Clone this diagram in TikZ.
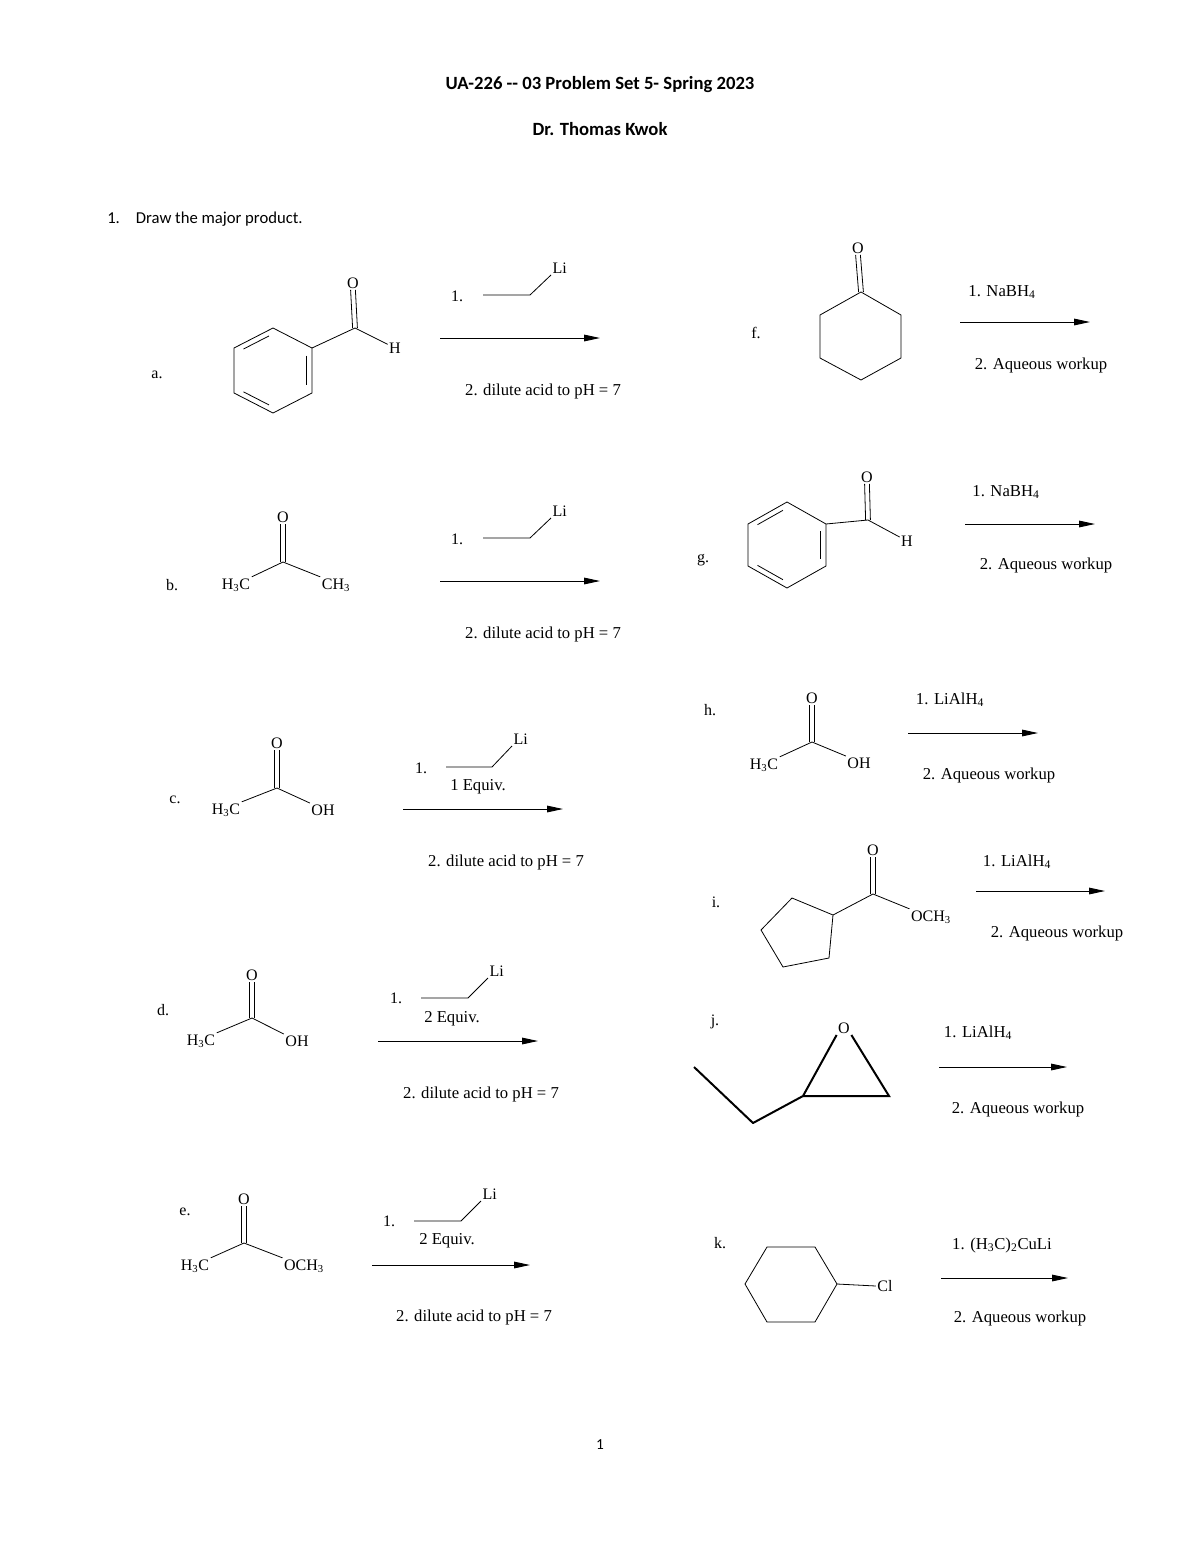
\documentclass[tikz,border=0pt]{standalone}
\usepackage{fontspec}
\setmainfont{Liberation Serif}
\newfontfamily\calib{Carlito}
\usetikzlibrary{arrows.meta,calc}
\tikzset{
 bond/.style={line width=0.6pt},
 thick bond/.style={line width=1.5pt},
 rxn/.style={line width=0.7pt,-{Triangle[length=12pt,width=5pt]}},
 txt/.style={inner sep=0pt,font=\fontsize{12.5}{14}\selectfont},
 atom/.style={inner sep=1pt,font=\fontsize{12}{13}\selectfont},
 lab/.style={inner sep=0pt,font=\fontsize{12}{14}\selectfont},
 hdr/.style={inner sep=0pt,font=\calib\bfseries\fontsize{14}{16}\selectfont},
}
\newcommand{\dbl}[3]{%
 \draw[bond] ([xshift=#3]#1) -- ([xshift=#3]#2);
 \draw[bond] ([xshift=-#3]#1) -- ([xshift=-#3]#2);}
\begin{document}
\begin{tikzpicture}[x=0.75pt,y=-0.75pt]
\useasboundingbox (0,0) rectangle (1200,1553);
\fill[white] (0,0) rectangle (1200,1553);
\node[hdr] (title) at (600,85) {UA-226 -- 03 Problem Set 5- Spring 2023};
\node[hdr] (auth) at (600,129) {Dr. Thomas Kwok};
\node[inner sep=0pt,anchor=west,font=\calib\fontsize{12.5}{14}\selectfont] (q1) at (107,219) {1.\hspace{12pt}Draw the major product.};
\node[inner sep=0pt,font=\calib\fontsize{11.5}{13}\selectfont] (pg) at (600,1445) {1};

\node[lab] (la) at (157,375) {a.};
\coordinate (a1) at (273,328); \coordinate (a2) at (312,348); \coordinate (a3) at (312,393);
\coordinate (a4) at (273,413); \coordinate (a5) at (234,393); \coordinate (a6) at (234,348);
\coordinate (ac) at (273,370);
\draw[bond] (a1)--(a2)--(a3)--(a4)--(a5)--(a6)--cycle;
\draw[bond] ($(a6)!0.12!(a1)!0.14!(ac)$) -- ($(a1)!0.12!(a6)!0.14!(ac)$);
\draw[bond] ($(a2)!0.12!(a3)!0.14!(ac)$) -- ($(a3)!0.12!(a2)!0.14!(ac)$);
\draw[bond] ($(a4)!0.12!(a5)!0.14!(ac)$) -- ($(a5)!0.12!(a4)!0.14!(ac)$);
\coordinate (aC) at (355,328);
\node[atom] (aO) at (353,283) {O};
\node[atom] (aH) at (395,348) {H};
\draw[bond] (a2)--(aC)--(aH);
\dbl{aC}{aO.south}{1.8pt}
\node[lab] (a1t) at (457,296) {1.};
\coordinate (ach1) at (483,295); \coordinate (ach2) at (530,295);
\node[atom,anchor=south west] (aLi) at (551,275) {Li};
\draw[bond] (ach1)--(ach2)--(aLi.south west);
\coordinate (ar1) at (440,338); \coordinate (ar2) at (600,338);
\draw[rxn] (ar1)--(ar2);
\node[txt] (a2t) at (543,391) {2. dilute acid to pH = 7};

\node[lab] (lb) at (172,585) {b.};
\node[atom] (bL) at (236,585) {H\textsubscript{3}C};
\node[atom] (bR) at (336,585) {CH\textsubscript{3}};
\coordinate (bC) at (283,562);
\node[atom] (bO) at (283,517) {O};
\draw[bond] (bL.north east)--(bC)--(bR.north west);
\dbl{bC}{bO.south}{1.8pt}
\node[lab] (b1t) at (457,539) {1.};
\coordinate (bch1) at (483,538); \coordinate (bch2) at (530,538);
\node[atom,anchor=south west] (bLi) at (551,518) {Li};
\draw[bond] (bch1)--(bch2)--(bLi.south west);
\coordinate (br1) at (440,581); \coordinate (br2) at (600,581);
\draw[rxn] (br1)--(br2);
\node[txt] (b2t) at (543,634) {2. dilute acid to pH = 7};

\node[lab] (lc) at (175,800) {c.};
\node[atom] (cL) at (226,810) {H\textsubscript{3}C};
\node[atom] (cR) at (323,810) {OH};
\coordinate (cC) at (277,788);
\node[atom] (cO) at (277,743) {O};
\draw[bond] (cL.north east)--(cC)--(cR.north west);
\dbl{cC}{cO.south}{1.8pt}
\node[lab] (c1t) at (421,768) {1.};
\coordinate (cch1) at (446,767); \coordinate (cch2) at (492,767);
\node[atom,anchor=south west] (cLi) at (512,746) {Li};
\draw[bond] (cch1)--(cch2)--(cLi.south west);
\node[txt] (ceq) at (478,787) {1 Equiv.};
\coordinate (cr1) at (403,809); \coordinate (cr2) at (563,809);
\draw[rxn] (cr1)--(cr2);
\node[txt] (c2t) at (506,862) {2. dilute acid to pH = 7};

\node[lab] (ld) at (163,1010) {d.};
\node[atom] (dL) at (201,1041) {H\textsubscript{3}C};
\node[atom] (dR) at (297,1041) {OH};
\coordinate (dC) at (252,1018);
\node[atom] (dO) at (252,975) {O};
\draw[bond] (dL.north east)--(dC)--(dR.north west);
\dbl{dC}{dO.south}{1.8pt}
\node[lab] (d1t) at (396,998) {1.};
\coordinate (dch1) at (421,998); \coordinate (dch2) at (468,998);
\node[atom,anchor=south west] (dLi) at (488,978) {Li};
\draw[bond] (dch1)--(dch2)--(dLi.south west);
\node[txt] (deq) at (452,1019) {2 Equiv.};
\coordinate (dr1) at (378,1041); \coordinate (dr2) at (538,1041);
\draw[rxn] (dr1)--(dr2);
\node[txt] (d2t) at (481,1094) {2. dilute acid to pH = 7};

\node[lab] (le) at (185,1212) {e.};
\node[atom] (eL) at (195,1266) {H\textsubscript{3}C};
\node[atom] (eR) at (304,1266) {OCH\textsubscript{3}};
\coordinate (eC) at (244,1243);
\node[atom] (eO) at (244,1199) {O};
\draw[bond] (eL.north east)--(eC)--(eR.north west);
\dbl{eC}{eO.south}{1.8pt}
\node[lab] (e1t) at (389,1221) {1.};
\coordinate (ech1) at (414,1221); \coordinate (ech2) at (461,1221);
\node[atom,anchor=south west] (eLi) at (481,1201) {Li};
\draw[bond] (ech1)--(ech2)--(eLi.south west);
\node[txt] (eeq) at (447,1241) {2 Equiv.};
\coordinate (er1) at (372,1265); \coordinate (er2) at (530,1265);
\draw[rxn] (er1)--(er2);
\node[txt] (e2t) at (474,1317) {2. dilute acid to pH = 7};

\node[lab] (lf) at (756,333) {f.};
\coordinate (f1) at (861,292); \coordinate (f2) at (901,315); \coordinate (f3) at (901,358);
\coordinate (f4) at (861,380); \coordinate (f5) at (820,358); \coordinate (f6) at (820,315);
\draw[bond] (f1)--(f2)--(f3)--(f4)--(f5)--(f6)--cycle;
\node[atom] (fO) at (858,248) {O};
\dbl{f1}{fO.south}{1.8pt}
\node[txt] (f1t) at (1002,292) {1. NaBH\textsubscript{4}};
\coordinate (fr1) at (960,322); \coordinate (fr2) at (1090,322);
\draw[rxn] (fr1)--(fr2);
\node[txt] (f2t) at (1041,365) {2. Aqueous workup};

\node[lab] (lg) at (703,560) {g.};
\coordinate (g1) at (787,502); \coordinate (g2) at (826,524); \coordinate (g3) at (826,566);
\coordinate (g4) at (787,588); \coordinate (g5) at (748,566); \coordinate (g6) at (748,524);
\coordinate (gc) at (787,545);
\draw[bond] (g1)--(g2)--(g3)--(g4)--(g5)--(g6)--cycle;
\draw[bond] ($(g6)!0.12!(g1)!0.14!(gc)$) -- ($(g1)!0.12!(g6)!0.14!(gc)$);
\draw[bond] ($(g2)!0.12!(g3)!0.14!(gc)$) -- ($(g3)!0.12!(g2)!0.14!(gc)$);
\draw[bond] ($(g4)!0.12!(g5)!0.14!(gc)$) -- ($(g5)!0.12!(g4)!0.14!(gc)$);
\coordinate (gC) at (868,520);
\node[atom] (gO) at (867,477) {O};
\node[atom] (gH) at (907,541) {H};
\draw[bond] (g2)--(gC)--(gH);
\dbl{gC}{gO.south}{1.8pt}
\node[txt] (g1t) at (1006,492) {1. NaBH\textsubscript{4}};
\coordinate (gr1) at (965,524); \coordinate (gr2) at (1095,524);
\draw[rxn] (gr1)--(gr2);
\node[txt] (g2t) at (1046,565) {2. Aqueous workup};

\node[lab] (lh) at (710,710) {h.};
\node[atom] (hL) at (764,765) {H\textsubscript{3}C};
\node[atom] (hR) at (859,763) {OH};
\coordinate (hC) at (812,742);
\node[atom] (hO) at (812,698) {O};
\draw[bond] (hL.north east)--(hC)--(hR.north west);
\dbl{hC}{hO.south}{1.8pt}
\node[txt] (h1t) at (950,700) {1. LiAlH\textsubscript{4}};
\coordinate (hr1) at (908,733); \coordinate (hr2) at (1038,733);
\draw[rxn] (hr1)--(hr2);
\node[txt] (h2t) at (989,775) {2. Aqueous workup};

\node[lab] (li) at (716,902) {i.};
\coordinate (i1) at (833,915); \coordinate (i2) at (792,898); \coordinate (i3) at (761,930);
\coordinate (i4) at (783,967); \coordinate (i5) at (829,958);
\draw[bond] (i1)--(i2)--(i3)--(i4)--(i5)--cycle;
\coordinate (iC) at (873,894);
\node[atom] (iO) at (873,850) {O};
\node[atom] (iR) at (931,917) {OCH\textsubscript{3}};
\draw[bond] (i1)--(iC)--(iR.north west);
\dbl{iC}{iO.south}{1.8pt}
\node[txt] (i1t) at (1017,862) {1. LiAlH\textsubscript{4}};
\coordinate (ir1) at (976,891); \coordinate (ir2) at (1105,891);
\draw[rxn] (ir1)--(ir2);
\node[txt] (i2t) at (1057,933) {2. Aqueous workup};

\node[lab] (lj) at (715,1022) {j.};
\coordinate (j1) at (694,1067); \coordinate (j2) at (753,1123); \coordinate (j3) at (803,1096);
\coordinate (j4) at (889,1096);
\node[atom] (jO) at (844,1028) {O};
\draw[thick bond,line join=round] (j1)--(j2)--(j3)--(jO.south west);
\draw[thick bond] (jO.south east)--(j4)--(j3);
\node[txt] (j1t) at (978,1033) {1. LiAlH\textsubscript{4}};
\coordinate (jr1) at (939,1067); \coordinate (jr2) at (1067,1067);
\draw[rxn] (jr1)--(jr2);
\node[txt] (j2t) at (1018,1109) {2. Aqueous workup};

\node[lab] (lk) at (720,1243) {k.};
\coordinate (k1) at (767,1247); \coordinate (k2) at (815,1247); \coordinate (k3) at (837,1284);
\coordinate (k4) at (815,1322); \coordinate (k5) at (767,1322); \coordinate (k6) at (745,1284);
\draw[bond] (k1)--(k2)--(k3)--(k4)--(k5)--(k6)--cycle;
\node[atom] (kCl) at (885,1286) {Cl};
\draw[bond] (k3)--(kCl.west);
\node[txt] (k1t) at (1002,1245) {1. (H\textsubscript{3}C)\textsubscript{2}CuLi};
\coordinate (kr1) at (941,1278); \coordinate (kr2) at (1068,1278);
\draw[rxn] (kr1)--(kr2);
\node[txt] (k2t) at (1020,1318) {2. Aqueous workup};
\end{tikzpicture}
\end{document}
